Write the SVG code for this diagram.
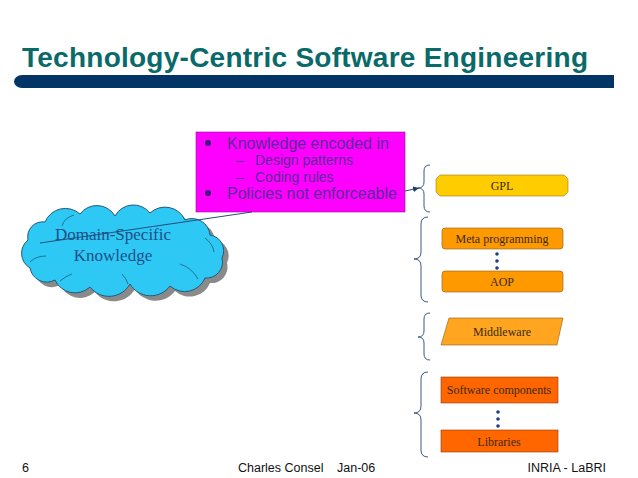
<svg xmlns="http://www.w3.org/2000/svg" width="638" height="478" viewBox="0 0 638 478">
<style>
.title{font-family:"Liberation Sans",Arial,sans-serif;font-weight:bold;font-size:28px;fill:#0a6a6a}
.foot{font-family:"Liberation Sans",Arial,sans-serif;font-size:12.5px;fill:#111}
.main{font-family:"Liberation Sans",Arial,sans-serif;font-size:16px;fill:#5a2a9a}
.sub{font-family:"Liberation Sans",Arial,sans-serif;font-size:14px;fill:#5a2a9a}
.lbl{font-family:"Liberation Serif","Times New Roman",serif;font-size:12px;fill:#3a2a10;text-anchor:middle}
.cloudtxt{font-family:"Liberation Serif","Times New Roman",serif;font-size:17px;fill:#1f4f88;text-anchor:middle}
.brace{fill:none;stroke:#3a5a80;stroke-width:1}
.conn{fill:none;stroke:#1f4f7f;stroke-width:1}
.dot{fill:#1f3f7f}
</style>
<defs>
<marker id="ah" viewBox="0 0 10 10" refX="10" refY="5" markerWidth="6" markerHeight="6" orient="auto" markerUnits="userSpaceOnUse">
<path d="M0,0 L10,5 L0,10 z" fill="#1f3f6f"/>
</marker>
<path id="cloudpath" d="M28,240 A15,15 0 0 1 45,222 A22,22 0 0 1 80,214 A21,21 0 0 1 115,216 A21,21 0 0 1 150,213 A22,22 0 0 1 185,220 A18,18 0 0 1 210,235 A16,16 0 0 1 222,258 A16,16 0 0 1 205,278 A22,22 0 0 1 170,286 A24,24 0 0 1 130,284 A24,24 0 0 1 90,287 A22,22 0 0 1 55,280 A17,17 0 0 1 30,268 A17,17 0 0 1 28,240 Z"/>
</defs>

<g id="title">
<text class="title" x="22" y="67" textLength="566">Technology-Centric Software Engineering</text>
<path d="M22,75 L614,75 L614,88 L22,88 A8,6.5 0 0 1 22,75 Z" fill="#033466"/>
</g>

<g id="knowledge-box">
<rect x="196" y="132" width="209" height="80" fill="#ff00ff" stroke="#a000a0" stroke-width="0.6"/>
<circle cx="208" cy="143" r="3" fill="#3a1a7a"/>
<text class="main" x="227" y="149">Knowledge encoded in</text>
<text class="sub" x="236" y="165">–</text>
<text class="sub" x="255" y="165">Design patterns</text>
<text class="sub" x="236" y="182">–</text>
<text class="sub" x="255" y="182">Coding rules</text>
<circle cx="208" cy="193" r="3" fill="#3a1a7a"/>
<text class="main" x="227" y="199">Policies not enforceable</text>
</g>

<g id="cloud">
<use href="#cloudpath" transform="translate(5,5)" fill="#8a8a8a"/>
<use href="#cloudpath" fill="#2ec8f4" stroke="#1f5a7a" stroke-width="1"/>
<path d="M30,262 Q36,256 46,256" fill="none" stroke="#1f5a7a" stroke-width="0.8"/>
<path d="M62,226 Q64,218 74,215" fill="none" stroke="#1f5a7a" stroke-width="0.8"/>
<path d="M205,238 Q213,244 214,252" fill="none" stroke="#1f5a7a" stroke-width="0.8"/>
<path d="M180,264 Q192,268 198,279" fill="none" stroke="#1f5a7a" stroke-width="0.8"/>
<path d="M128,284 Q126,278 122,274" fill="none" stroke="#1f5a7a" stroke-width="0.8"/>
<path d="M60,281 Q66,276 72,274" fill="none" stroke="#1f5a7a" stroke-width="0.8"/>
<text class="cloudtxt" x="113" y="240">Domain-Specific</text>
<text class="cloudtxt" x="113" y="261">Knowledge</text>
</g>

<g id="gpl">
<path d="M440,175 L564,175 L568,179 L568,192 L564,196 L440,196 L436,192 L436,179 Z" fill="#ffcc00" stroke="#9a7a20" stroke-width="0.6"/>
<text class="lbl" x="502" y="190">GPL</text>
</g>

<g id="meta">
<rect x="442" y="228" width="121" height="21" rx="3" fill="#ff9900" stroke="#8a5a10" stroke-width="0.6"/>
<text class="lbl" x="502" y="243">Meta programming</text>
</g>

<g id="aop">
<rect x="442" y="271" width="121" height="21" rx="3" fill="#ff9900" stroke="#8a5a10" stroke-width="0.6"/>
<text class="lbl" x="502" y="286">AOP</text>
</g>

<g id="middleware">
<path d="M449,318 L563,318 L557,345 L441,345 Z" fill="#ffa520" stroke="#8a5a10" stroke-width="0.6"/>
<text class="lbl" x="502" y="336">Middleware</text>
</g>

<g id="components">
<rect x="441" y="377" width="117" height="26" fill="#ff6600" stroke="#8a3a10" stroke-width="0.6"/>
<text class="lbl" x="499" y="394">Software components</text>
</g>

<g id="libraries">
<rect x="441" y="430" width="117" height="22" fill="#ff6600" stroke="#8a3a10" stroke-width="0.6"/>
<text class="lbl" x="499" y="446">Libraries</text>
</g>

<g id="connectors">
<line class="conn" x1="40" y1="243" x2="252" y2="212"/>
<line class="conn" x1="405" y1="191" x2="419" y2="188" marker-end="url(#ah)"/>
<path class="brace" d="M430,165 Q424,165 424,171 L424,182 Q424,188 418,188 Q424,188 424,194 L424,206 Q424,212 430,212"/>
<path class="brace" d="M428,217 Q421,217 421,224 L421,252 Q421,259 414,259 Q421,259 421,266 L421,295 Q421,302 428,302"/>
<path class="brace" d="M430,313 Q424,313 424,319 L424,331 Q424,337 418,337 Q424,337 424,343 L424,354 Q424,360 430,360"/>
<path class="brace" d="M428,372 Q421,372 421,379 L421,406 Q421,413 414,413 Q421,413 421,420 L421,450 Q421,457 428,457"/>
<circle class="dot" cx="497" cy="254" r="1.8"/>
<circle class="dot" cx="497" cy="261" r="1.8"/>
<circle class="dot" cx="497" cy="268" r="1.8"/>
<circle class="dot" cx="498" cy="412" r="1.8"/>
<circle class="dot" cx="498" cy="419" r="1.8"/>
<circle class="dot" cx="498" cy="426" r="1.8"/>
</g>

<g id="footer">
<text class="foot" x="22" y="472">6</text>
<text class="foot" x="238" y="472">Charles Consel</text>
<text class="foot" x="337" y="472">Jan-06</text>
<text class="foot" x="606" y="472" text-anchor="end">INRIA - LaBRI</text>
</g>
</svg>
